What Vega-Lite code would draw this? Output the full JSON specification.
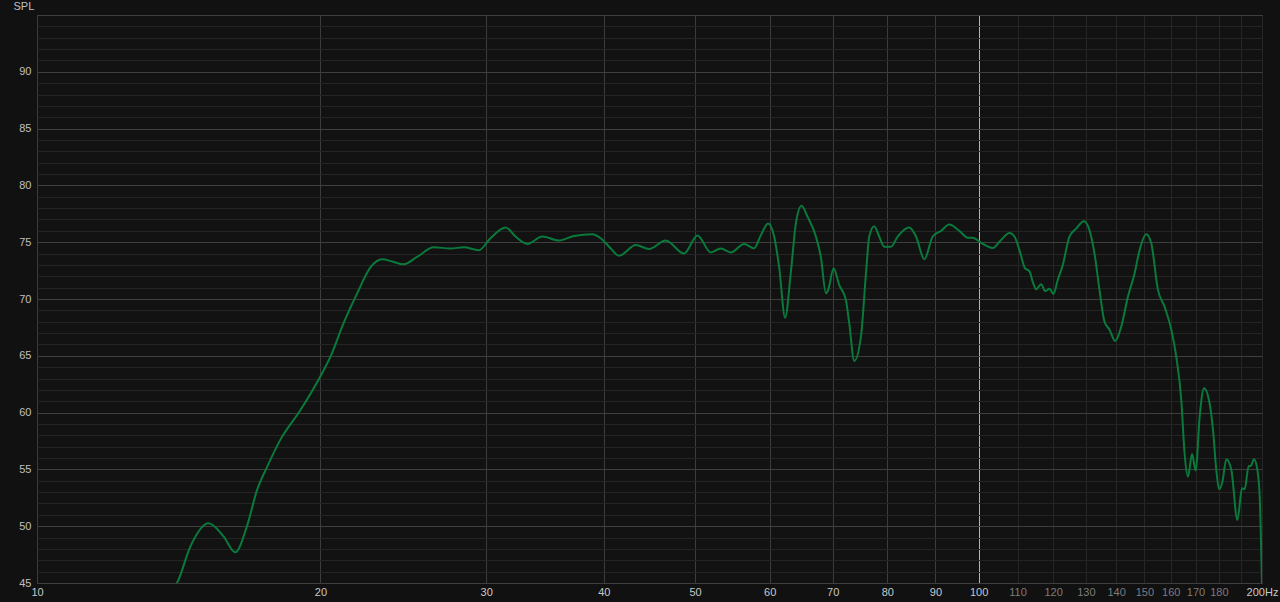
{
  "$schema": "https://vega.github.io/schema/vega-lite/v6.json",
  "width": 1225,
  "height": 568,
  "autosize": {"type": "none"},
  "padding": {"left": 37, "top": 15, "right": 18, "bottom": 19},
  "background": "#111111",
  "config": {
    "view": {"stroke": "#444444", "strokeWidth": 1, "fill": "#121212"},
    "axis": {"labelFont": "Liberation Sans", "labelFontSize": 11, "tickSize": 0, "domain": false, "ticks": false, "gridOpacity": 1, "gridWidth": 1}
  },
  "data": {"values": [
    {"f": 13.9, "spl": 44.3},
    {"f": 14.1, "spl": 45.1},
    {"f": 14.55, "spl": 48.2},
    {"f": 15.21, "spl": 50.25},
    {"f": 15.78, "spl": 49.1},
    {"f": 16.24, "spl": 47.7},
    {"f": 16.71, "spl": 50.0},
    {"f": 17.13, "spl": 53.2},
    {"f": 17.55, "spl": 55.2},
    {"f": 18.13, "spl": 57.6},
    {"f": 19.04, "spl": 60.2},
    {"f": 20.0, "spl": 63.2},
    {"f": 20.49, "spl": 64.9},
    {"f": 21.17, "spl": 67.9},
    {"f": 21.88, "spl": 70.5},
    {"f": 22.61, "spl": 72.8},
    {"f": 23.26, "spl": 73.5},
    {"f": 23.84, "spl": 73.3},
    {"f": 24.51, "spl": 73.05},
    {"f": 25.33, "spl": 73.7},
    {"f": 26.39, "spl": 74.55},
    {"f": 27.49, "spl": 74.45},
    {"f": 28.4, "spl": 74.55},
    {"f": 29.46, "spl": 74.3},
    {"f": 30.31, "spl": 75.35},
    {"f": 31.45, "spl": 76.3},
    {"f": 32.23, "spl": 75.5},
    {"f": 33.17, "spl": 74.85},
    {"f": 34.41, "spl": 75.5},
    {"f": 35.84, "spl": 75.15},
    {"f": 37.18, "spl": 75.55},
    {"f": 38.89, "spl": 75.7},
    {"f": 39.69, "spl": 75.35},
    {"f": 40.68, "spl": 74.45},
    {"f": 41.51, "spl": 73.8},
    {"f": 43.24, "spl": 74.75},
    {"f": 44.67, "spl": 74.4},
    {"f": 46.53, "spl": 75.15},
    {"f": 48.66, "spl": 74.0},
    {"f": 50.28, "spl": 75.6},
    {"f": 51.95, "spl": 74.1},
    {"f": 53.23, "spl": 74.45},
    {"f": 54.55, "spl": 74.1},
    {"f": 56.36, "spl": 74.85},
    {"f": 57.75, "spl": 74.45},
    {"f": 58.71, "spl": 75.6},
    {"f": 59.77, "spl": 76.65},
    {"f": 60.66, "spl": 75.5},
    {"f": 61.4, "spl": 72.85},
    {"f": 62.31, "spl": 68.35},
    {"f": 63.18, "spl": 72.3},
    {"f": 63.97, "spl": 76.65},
    {"f": 64.86, "spl": 78.2},
    {"f": 65.82, "spl": 77.25},
    {"f": 67.18, "spl": 75.5},
    {"f": 68.0, "spl": 73.7},
    {"f": 68.85, "spl": 70.5},
    {"f": 69.23, "spl": 70.8},
    {"f": 70.15, "spl": 72.7},
    {"f": 71.12, "spl": 71.25},
    {"f": 72.3, "spl": 69.9},
    {"f": 72.89, "spl": 67.85},
    {"f": 73.79, "spl": 64.55},
    {"f": 75.01, "spl": 66.7},
    {"f": 75.93, "spl": 72.25},
    {"f": 76.54, "spl": 75.5},
    {"f": 77.48, "spl": 76.4},
    {"f": 78.43, "spl": 75.5},
    {"f": 79.4, "spl": 74.6},
    {"f": 80.71, "spl": 74.6},
    {"f": 82.05, "spl": 75.5},
    {"f": 84.41, "spl": 76.3},
    {"f": 85.82, "spl": 75.5},
    {"f": 87.58, "spl": 73.5},
    {"f": 89.4, "spl": 75.5},
    {"f": 91.24, "spl": 76.0},
    {"f": 93.11, "spl": 76.55},
    {"f": 95.41, "spl": 76.0},
    {"f": 97.39, "spl": 75.4},
    {"f": 98.59, "spl": 75.4},
    {"f": 100.62, "spl": 74.95},
    {"f": 103.54, "spl": 74.5},
    {"f": 105.66, "spl": 75.2},
    {"f": 107.84, "spl": 75.8},
    {"f": 109.17, "spl": 75.5},
    {"f": 110.52, "spl": 74.3},
    {"f": 112.06, "spl": 72.7},
    {"f": 113.24, "spl": 72.45},
    {"f": 114.18, "spl": 71.5},
    {"f": 115.11, "spl": 70.85},
    {"f": 116.54, "spl": 71.3},
    {"f": 117.68, "spl": 70.7},
    {"f": 118.93, "spl": 70.9},
    {"f": 120.09, "spl": 70.45},
    {"f": 121.39, "spl": 71.7},
    {"f": 122.88, "spl": 73.0},
    {"f": 124.89, "spl": 75.5},
    {"f": 126.97, "spl": 76.2},
    {"f": 129.39, "spl": 76.85},
    {"f": 131.17, "spl": 76.05},
    {"f": 132.78, "spl": 74.0},
    {"f": 134.41, "spl": 70.8},
    {"f": 136.07, "spl": 68.0},
    {"f": 137.75, "spl": 67.3},
    {"f": 139.67, "spl": 66.3},
    {"f": 141.74, "spl": 67.55},
    {"f": 144.08, "spl": 70.2},
    {"f": 146.45, "spl": 72.25},
    {"f": 148.25, "spl": 74.3},
    {"f": 150.7, "spl": 75.7},
    {"f": 152.55, "spl": 74.9},
    {"f": 155.07, "spl": 70.8},
    {"f": 157.63, "spl": 69.3},
    {"f": 160.23, "spl": 67.3},
    {"f": 162.18, "spl": 64.9},
    {"f": 164.18, "spl": 61.1},
    {"f": 165.51, "spl": 56.4},
    {"f": 166.89, "spl": 54.35},
    {"f": 168.54, "spl": 56.35},
    {"f": 170.03, "spl": 54.9},
    {"f": 171.72, "spl": 59.65},
    {"f": 173.55, "spl": 62.15},
    {"f": 175.96, "spl": 60.8},
    {"f": 177.42, "spl": 58.45},
    {"f": 178.86, "spl": 54.95},
    {"f": 180.06, "spl": 53.25},
    {"f": 181.52, "spl": 53.9},
    {"f": 183.31, "spl": 55.9},
    {"f": 185.56, "spl": 54.95},
    {"f": 188.32, "spl": 50.55},
    {"f": 190.47, "spl": 53.35},
    {"f": 191.7, "spl": 53.25},
    {"f": 193.6, "spl": 55.3},
    {"f": 194.54, "spl": 55.3},
    {"f": 196.16, "spl": 55.9},
    {"f": 197.75, "spl": 54.95},
    {"f": 198.88, "spl": 52.6},
    {"f": 200.0, "spl": 44.8}
  ]},
  "mark": {"type": "line", "interpolate": "monotone", "color": "#0a7a3c", "strokeWidth": 2, "clip": true},
  "encoding": {
    "x": {
      "field": "f", "type": "quantitative",
      "scale": {"type": "log", "domain": [10, 200], "nice": false, "zero": false},
      "axis": {
        "title": null,
        "values": [10, 20, 30, 40, 50, 60, 70, 80, 90, 100, 110, 120, 130, 140, 150, 160, 170, 180, 190, 200],
        "labelExpr": "datum.value == 190 ? '' : (datum.value == 200 ? '200Hz' : datum.label)",
        "labelPadding": 3,
        "labelOverlap": false,
        "labelFlush": false,
        "grid": true,
        "gridColor": {"condition": [
          {"test": "datum.value == 100", "value": "#b4b4b4"},
          {"test": "datum.value < 100", "value": "#3c3c3c"}
        ], "value": "#262626"},
        "labelColor": {"condition": {"test": "datum.value > 100 && datum.value < 200", "value": "#7c7c7c"}, "value": "#c8c8c8"}
      }
    },
    "y": {
      "field": "spl", "type": "quantitative",
      "scale": {"domain": [45, 95], "nice": false, "zero": false},
      "axis": {
        "title": "SPL",
        "titleAngle": 0,
        "titleAlign": "left",
        "titleBaseline": "middle",
        "titleX": -24,
        "titleY": -9,
        "titleFont": "Liberation Sans",
        "titleFontSize": 11,
        "titleFontWeight": "normal",
        "titleColor": "#c0c0c0",
        "values": [45, 46, 47, 48, 49, 50, 51, 52, 53, 54, 55, 56, 57, 58, 59, 60, 61, 62, 63, 64, 65, 66, 67, 68, 69, 70, 71, 72, 73, 74, 75, 76, 77, 78, 79, 80, 81, 82, 83, 84, 85, 86, 87, 88, 89, 90, 91, 92, 93, 94, 95],
        "labelExpr": "(datum.value % 5 == 0 && datum.value < 95) ? datum.label : ''",
        "labelColor": "#c0c0c0",
        "labelPadding": 6,
        "labelOverlap": false,
        "labelFlush": false,
        "grid": true,
        "gridColor": {"condition": {"test": "datum.value % 5 == 0", "value": "#3e3e3e"}, "value": "#242424"}
      }
    }
  }
}
